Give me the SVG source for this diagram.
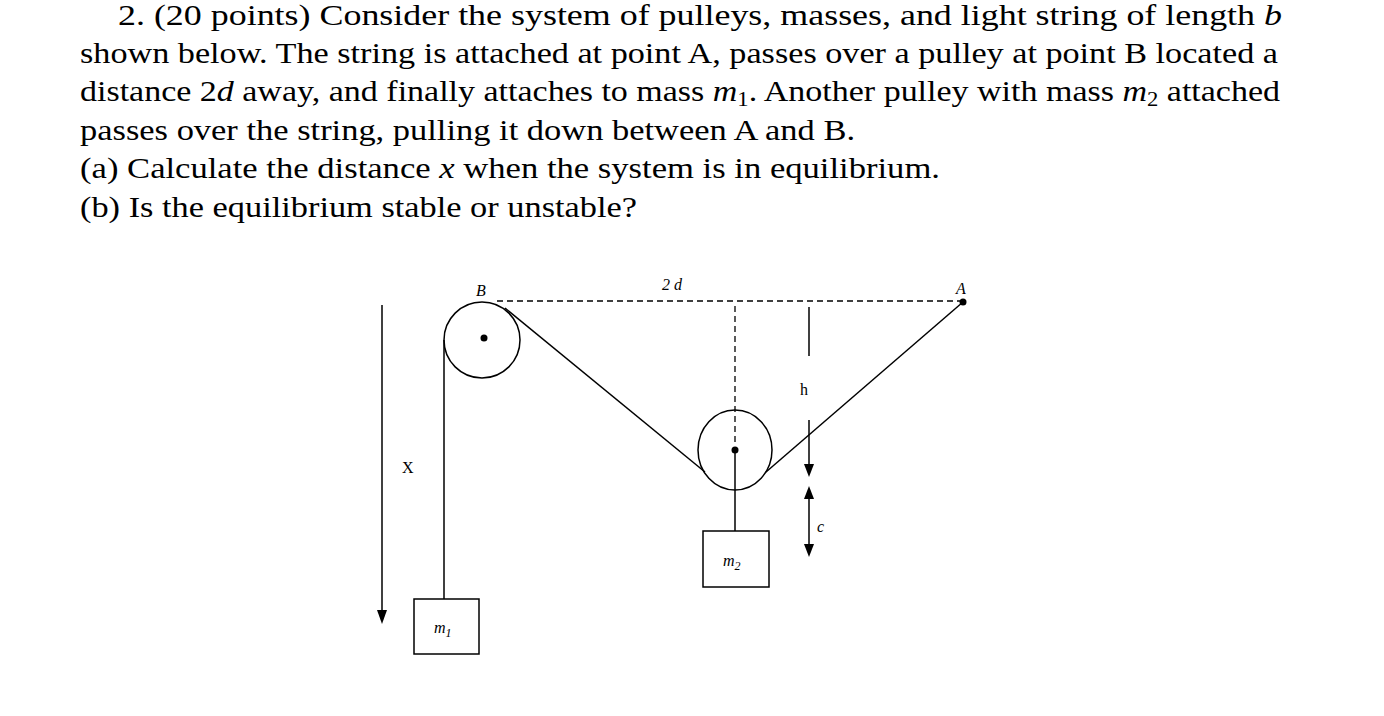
<svg xmlns="http://www.w3.org/2000/svg" width="1384" height="716" viewBox="0 0 1384 716">
<style>
.t{font-family:"Liberation Serif",serif;font-size:30px;fill:#000}
.d{font-family:"Liberation Serif",serif;font-size:16px;fill:#000}
.s{stroke:#000;stroke-width:1.5;fill:none}
.ds{stroke:#000;stroke-width:1.3;fill:none;stroke-dasharray:6,4}
</style>
<rect width="1384" height="716" fill="#fff"/>
<g id="text">
<text class="t" x="118" y="25" textLength="1164" lengthAdjust="spacingAndGlyphs">2. (20 points) Consider the system of pulleys, masses, and light string of length <tspan font-style="italic">b</tspan></text>
<text class="t" x="80" y="63" textLength="1198" lengthAdjust="spacingAndGlyphs">shown below. The string is attached at point A, passes over a pulley at point B located a</text>
<text class="t" x="80" y="101" textLength="1200" lengthAdjust="spacingAndGlyphs">distance 2<tspan font-style="italic">d</tspan> away, and finally attaches to mass <tspan font-style="italic">m</tspan><tspan font-size="20" dy="5">1</tspan><tspan dy="-5">. Another pulley with mass </tspan><tspan font-style="italic">m</tspan><tspan font-size="20" dy="5">2</tspan><tspan dy="-5"> attached</tspan></text>
<text class="t" x="80" y="140" textLength="775" lengthAdjust="spacingAndGlyphs">passes over the string, pulling it down between A and B.</text>
<text class="t" x="80" y="178" textLength="860" lengthAdjust="spacingAndGlyphs">(a) Calculate the distance <tspan font-style="italic">x</tspan> when the system is in equilibrium.</text>
<text class="t" x="80" y="217" textLength="557" lengthAdjust="spacingAndGlyphs">(b) Is the equilibrium stable or unstable?</text>
</g>
<g id="connectors">
<line class="ds" x1="497" y1="301" x2="963" y2="301"/>
<line class="ds" x1="735" y1="306" x2="735" y2="445"/>
<line class="s" x1="505" y1="308" x2="705" y2="472"/>
<line class="s" x1="766" y1="472" x2="963" y2="302"/>
<line class="s" x1="444" y1="340" x2="444" y2="599"/>
<line class="s" x1="735" y1="450" x2="735" y2="531"/>
<line class="s" x1="809" y1="307" x2="809" y2="356"/>
<line class="s" x1="809" y1="420" x2="809" y2="465"/>
<path d="M804,464 L814,464 L809,477Z"/>
<path d="M804,499 L814,499 L809,486Z"/>
<line class="s" x1="809" y1="498" x2="809" y2="545"/>
<path d="M804,544 L814,544 L809,557Z"/>
<line class="s" x1="382" y1="305" x2="382" y2="612"/>
<path d="M377,610 L387,610 L382,624Z"/>
</g>
<g id="pulleyB"><circle class="s" cx="482" cy="340" r="38"/><circle cx="484" cy="338" r="3.5"/><text class="d" x="476" y="296" font-style="italic">B</text></g>
<g id="pointA"><circle cx="963" cy="302" r="3.5"/><text class="d" x="956" y="294" font-style="italic">A</text></g>
<g id="label2d"><text class="d" x="662" y="290" font-style="italic">2 d</text></g>
<g id="pulley2"><ellipse class="s" cx="735" cy="450" rx="37" ry="40"/><circle cx="735" cy="450" r="3.5"/></g>
<g id="m2"><rect class="s" x="703" y="531" width="66" height="56"/><text class="d" x="723" y="566" font-style="italic">m<tspan font-size="12" dy="4">2</tspan></text></g>
<g id="m1"><rect class="s" x="414" y="599" width="65" height="55"/><text class="d" x="434" y="633" font-style="italic">m<tspan font-size="12" dy="4">1</tspan></text></g>
<g id="labels">
<text class="d" x="402" y="473">X</text>
<text class="d" x="800" y="395">h</text>
<text class="d" x="817" y="532" font-style="italic" font-size="13">c</text>
</g>
</svg>
